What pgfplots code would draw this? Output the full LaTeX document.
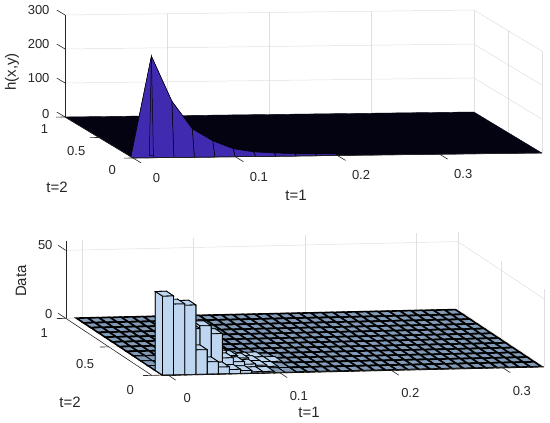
\documentclass[border=0pt]{standalone}
\usepackage{fontspec}
\setmainfont{Liberation Sans}
\usepackage{pgfplots}
\pgfplotsset{compat=1.18}
\definecolor{axisdark}{RGB}{38,38,38}
\definecolor{gridgray}{RGB}{223,223,223}
\newcommand\ticksize{\fontsize{13}{15}\selectfont}
\newcommand\labsize{\fontsize{15}{18}\selectfont}
\tikzset{axl/.style={draw=axisdark, line width=0.6pt}}
\pgfplotsset{
  matlab3d/.style={
    grid=major, grid style={draw=gridgray, line width=0.5pt},
    axis line style={draw=none},
    tick pos=left,
    tick align=outside, major tick length=7pt,
    tick style={draw=none},
    ticklabel style={font=\ticksize, text=axisdark},
    /pgf/number format/assume math mode=true,
    point meta min=0, point meta max=1,
    clip=false,
  },
}
\begin{document}
\begin{tikzpicture}
\path[use as bounding box] (0,0) rectangle (550pt,423pt);
% ---------------- top: surface ----------------
\begin{axis}[matlab3d,
  at={(133pt,265pt)}, anchor=origin,
  x={(1022pt,12.5pt)}, y={(-68pt,41pt)}, z={(0pt,0.34pt)},
  xmin=0, xmax=0.4, ymin=0, ymax=1, zmin=0, zmax=300,
  xtick={0,0.1,0.2,0.3}, ytick={0,0.5,1}, ztick={0,100,200,300},
  xticklabel style={xshift=13pt, yshift=-8pt},
  yticklabel style={xshift=-6pt, yshift=-4pt},
  zticklabel style={xshift=-6pt, yshift=-3pt},
]
\addplot3[surf, shader=flat, mesh/cols=2,
  colormap={blk}{rgb255=(4,3,18) rgb255=(4,3,18)}] table {
x y z
0 0 0
0.4 0 0
0 1 0
0.4 1 0
};
\addplot3[surf, shader=faceted, faceted color=black, line width=0.5pt,
  mesh/cols=11, z buffer=sort,
  colormap={pur}{rgb255=(64,42,176) rgb255=(64,42,176)}] table {
x y z
0 0 0
0.02 0 0
0.04 0 0
0.06 0 0
0.08 0 0
0.10 0 0
0.12 0 0
0.14 0 0
0.16 0 0
0.18 0 0
0.20 0 0
0 0.03 0
0.02 0.03 295
0.04 0.03 162
0.06 0.03 80
0.08 0.03 44
0.10 0.03 20
0.12 0.03 10
0.14 0.03 6
0.16 0.03 3
0.18 0.03 2
0.20 0.03 1
0 0.06 0
0.02 0.06 0
0.04 0.06 0
0.06 0.06 0
0.08 0.06 0
0.10 0.06 0
0.12 0.06 0
0.14 0.06 0
0.16 0.06 0
0.18 0.06 0
0.20 0.06 0
};
\draw[axl] (axis cs:0,0,0) -- (axis cs:0.4,0,0);
\draw[axl] (axis cs:0,0,0) -- (axis cs:0,1,0);
\draw[axl] (axis cs:0,1,0) -- (axis cs:0,1,300);
\pgfplotsinvokeforeach{0,0.1,0.2,0.3}{\draw[axl] (axis cs:#1,0,0) -- (axis cs:#1,-0.12,0);}
\pgfplotsinvokeforeach{0,0.5,1}{\draw[axl] (axis cs:0,#1,0) -- (axis cs:-0.009,#1,0);}
\pgfplotsinvokeforeach{0,100,200,300}{\draw[axl] (axis cs:0,1,#1) -- (axis cs:0,1.12,#1);}
\end{axis}
% ---------------- bottom: histogram ----------------
\begin{axis}[matlab3d,
  at={(168pt,48pt)}, anchor=origin,
  x={(1115pt,25pt)}, y={(-86pt,57pt)}, z={(0pt,1.36pt)},
  xmin=-0.0145, xmax=0.337, ymin=0, ymax=1, zmin=0, zmax=57,
  xtick={0,0.1,0.2,0.3}, ytick={0,0.5,1}, ztick={0,50},
  xticklabel style={xshift=9pt, yshift=-11pt},
  yticklabel style={xshift=-7pt, yshift=-7pt},
  zticklabel style={xshift=-4pt, yshift=-2pt},
  colormap={sky}{rgb255(0cm)=(130,155,185) rgb255(3cm)=(190,214,240) rgb255(10cm)=(190,214,240)},
]
\addplot3[surf, shader=faceted, faceted color=black, line width=1.6pt,
  mesh/cols=35] table {
x y z
-0.005 0 0
0.005 0 0
0.015 0 0
0.025 0 0
0.035 0 0
0.045 0 0
0.055 0 0
0.065 0 0
0.075 0 0
0.085 0 0
0.095 0 0
0.105 0 0
0.115 0 0
0.125 0 0
0.135 0 0
0.145 0 0
0.155 0 0
0.165 0 0
0.175 0 0
0.185 0 0
0.195 0 0
0.205 0 0
0.215 0 0
0.225 0 0
0.235 0 0
0.245 0 0
0.255 0 0
0.265 0 0
0.275 0 0
0.285 0 0
0.295 0 0
0.305 0 0
0.315 0 0
0.325 0 0
0.335 0 0
-0.005 0.0833 0
0.005 0.0833 0
0.015 0.0833 0
0.025 0.0833 0
0.035 0.0833 0
0.045 0.0833 0
0.055 0.0833 0
0.065 0.0833 0
0.075 0.0833 0
0.085 0.0833 0
0.095 0.0833 0
0.105 0.0833 0
0.115 0.0833 0
0.125 0.0833 0
0.135 0.0833 0
0.145 0.0833 0
0.155 0.0833 0
0.165 0.0833 0
0.175 0.0833 0
0.185 0.0833 0
0.195 0.0833 0
0.205 0.0833 0
0.215 0.0833 0
0.225 0.0833 0
0.235 0.0833 0
0.245 0.0833 0
0.255 0.0833 0
0.265 0.0833 0
0.275 0.0833 0
0.285 0.0833 0
0.295 0.0833 0
0.305 0.0833 0
0.315 0.0833 0
0.325 0.0833 0
0.335 0.0833 0
-0.005 0.1667 0
0.005 0.1667 0
0.015 0.1667 0
0.025 0.1667 0
0.035 0.1667 0
0.045 0.1667 0
0.055 0.1667 0
0.065 0.1667 0
0.075 0.1667 0
0.085 0.1667 0
0.095 0.1667 0
0.105 0.1667 0
0.115 0.1667 0
0.125 0.1667 0
0.135 0.1667 0
0.145 0.1667 0
0.155 0.1667 0
0.165 0.1667 0
0.175 0.1667 0
0.185 0.1667 0
0.195 0.1667 0
0.205 0.1667 0
0.215 0.1667 0
0.225 0.1667 0
0.235 0.1667 0
0.245 0.1667 0
0.255 0.1667 0
0.265 0.1667 0
0.275 0.1667 0
0.285 0.1667 0
0.295 0.1667 0
0.305 0.1667 0
0.315 0.1667 0
0.325 0.1667 0
0.335 0.1667 0
-0.005 0.25 0
0.005 0.25 0
0.015 0.25 0
0.025 0.25 0
0.035 0.25 0
0.045 0.25 0
0.055 0.25 0
0.065 0.25 0
0.075 0.25 0
0.085 0.25 0
0.095 0.25 0
0.105 0.25 0
0.115 0.25 0
0.125 0.25 0
0.135 0.25 0
0.145 0.25 0
0.155 0.25 0
0.165 0.25 0
0.175 0.25 0
0.185 0.25 0
0.195 0.25 0
0.205 0.25 0
0.215 0.25 0
0.225 0.25 0
0.235 0.25 0
0.245 0.25 0
0.255 0.25 0
0.265 0.25 0
0.275 0.25 0
0.285 0.25 0
0.295 0.25 0
0.305 0.25 0
0.315 0.25 0
0.325 0.25 0
0.335 0.25 0
-0.005 0.3333 0
0.005 0.3333 0
0.015 0.3333 0
0.025 0.3333 0
0.035 0.3333 0
0.045 0.3333 0
0.055 0.3333 0
0.065 0.3333 0
0.075 0.3333 0
0.085 0.3333 0
0.095 0.3333 0
0.105 0.3333 0
0.115 0.3333 0
0.125 0.3333 0
0.135 0.3333 0
0.145 0.3333 0
0.155 0.3333 0
0.165 0.3333 0
0.175 0.3333 0
0.185 0.3333 0
0.195 0.3333 0
0.205 0.3333 0
0.215 0.3333 0
0.225 0.3333 0
0.235 0.3333 0
0.245 0.3333 0
0.255 0.3333 0
0.265 0.3333 0
0.275 0.3333 0
0.285 0.3333 0
0.295 0.3333 0
0.305 0.3333 0
0.315 0.3333 0
0.325 0.3333 0
0.335 0.3333 0
-0.005 0.4167 0
0.005 0.4167 0
0.015 0.4167 0
0.025 0.4167 0
0.035 0.4167 0
0.045 0.4167 0
0.055 0.4167 0
0.065 0.4167 0
0.075 0.4167 0
0.085 0.4167 0
0.095 0.4167 0
0.105 0.4167 0
0.115 0.4167 0
0.125 0.4167 0
0.135 0.4167 0
0.145 0.4167 0
0.155 0.4167 0
0.165 0.4167 0
0.175 0.4167 0
0.185 0.4167 0
0.195 0.4167 0
0.205 0.4167 0
0.215 0.4167 0
0.225 0.4167 0
0.235 0.4167 0
0.245 0.4167 0
0.255 0.4167 0
0.265 0.4167 0
0.275 0.4167 0
0.285 0.4167 0
0.295 0.4167 0
0.305 0.4167 0
0.315 0.4167 0
0.325 0.4167 0
0.335 0.4167 0
-0.005 0.5 0
0.005 0.5 0
0.015 0.5 0
0.025 0.5 0
0.035 0.5 0
0.045 0.5 0
0.055 0.5 0
0.065 0.5 0
0.075 0.5 0
0.085 0.5 0
0.095 0.5 0
0.105 0.5 0
0.115 0.5 0
0.125 0.5 0
0.135 0.5 0
0.145 0.5 0
0.155 0.5 0
0.165 0.5 0
0.175 0.5 0
0.185 0.5 0
0.195 0.5 0
0.205 0.5 0
0.215 0.5 0
0.225 0.5 0
0.235 0.5 0
0.245 0.5 0
0.255 0.5 0
0.265 0.5 0
0.275 0.5 0
0.285 0.5 0
0.295 0.5 0
0.305 0.5 0
0.315 0.5 0
0.325 0.5 0
0.335 0.5 0
-0.005 0.5833 0
0.005 0.5833 0
0.015 0.5833 0
0.025 0.5833 0
0.035 0.5833 0
0.045 0.5833 0
0.055 0.5833 0
0.065 0.5833 0
0.075 0.5833 0
0.085 0.5833 0
0.095 0.5833 0
0.105 0.5833 0
0.115 0.5833 0
0.125 0.5833 0
0.135 0.5833 0
0.145 0.5833 0
0.155 0.5833 0
0.165 0.5833 0
0.175 0.5833 0
0.185 0.5833 0
0.195 0.5833 0
0.205 0.5833 0
0.215 0.5833 0
0.225 0.5833 0
0.235 0.5833 0
0.245 0.5833 0
0.255 0.5833 0
0.265 0.5833 0
0.275 0.5833 0
0.285 0.5833 0
0.295 0.5833 0
0.305 0.5833 0
0.315 0.5833 0
0.325 0.5833 0
0.335 0.5833 0
-0.005 0.6667 0
0.005 0.6667 0
0.015 0.6667 0
0.025 0.6667 0
0.035 0.6667 0
0.045 0.6667 0
0.055 0.6667 0
0.065 0.6667 0
0.075 0.6667 0
0.085 0.6667 0
0.095 0.6667 0
0.105 0.6667 0
0.115 0.6667 0
0.125 0.6667 0
0.135 0.6667 0
0.145 0.6667 0
0.155 0.6667 0
0.165 0.6667 0
0.175 0.6667 0
0.185 0.6667 0
0.195 0.6667 0
0.205 0.6667 0
0.215 0.6667 0
0.225 0.6667 0
0.235 0.6667 0
0.245 0.6667 0
0.255 0.6667 0
0.265 0.6667 0
0.275 0.6667 0
0.285 0.6667 0
0.295 0.6667 0
0.305 0.6667 0
0.315 0.6667 0
0.325 0.6667 0
0.335 0.6667 0
-0.005 0.75 0
0.005 0.75 0
0.015 0.75 0
0.025 0.75 0
0.035 0.75 0
0.045 0.75 0
0.055 0.75 0
0.065 0.75 0
0.075 0.75 0
0.085 0.75 0
0.095 0.75 0
0.105 0.75 0
0.115 0.75 0
0.125 0.75 0
0.135 0.75 0
0.145 0.75 0
0.155 0.75 0
0.165 0.75 0
0.175 0.75 0
0.185 0.75 0
0.195 0.75 0
0.205 0.75 0
0.215 0.75 0
0.225 0.75 0
0.235 0.75 0
0.245 0.75 0
0.255 0.75 0
0.265 0.75 0
0.275 0.75 0
0.285 0.75 0
0.295 0.75 0
0.305 0.75 0
0.315 0.75 0
0.325 0.75 0
0.335 0.75 0
-0.005 0.8333 0
0.005 0.8333 0
0.015 0.8333 0
0.025 0.8333 0
0.035 0.8333 0
0.045 0.8333 0
0.055 0.8333 0
0.065 0.8333 0
0.075 0.8333 0
0.085 0.8333 0
0.095 0.8333 0
0.105 0.8333 0
0.115 0.8333 0
0.125 0.8333 0
0.135 0.8333 0
0.145 0.8333 0
0.155 0.8333 0
0.165 0.8333 0
0.175 0.8333 0
0.185 0.8333 0
0.195 0.8333 0
0.205 0.8333 0
0.215 0.8333 0
0.225 0.8333 0
0.235 0.8333 0
0.245 0.8333 0
0.255 0.8333 0
0.265 0.8333 0
0.275 0.8333 0
0.285 0.8333 0
0.295 0.8333 0
0.305 0.8333 0
0.315 0.8333 0
0.325 0.8333 0
0.335 0.8333 0
-0.005 0.9167 0
0.005 0.9167 0
0.015 0.9167 0
0.025 0.9167 0
0.035 0.9167 0
0.045 0.9167 0
0.055 0.9167 0
0.065 0.9167 0
0.075 0.9167 0
0.085 0.9167 0
0.095 0.9167 0
0.105 0.9167 0
0.115 0.9167 0
0.125 0.9167 0
0.135 0.9167 0
0.145 0.9167 0
0.155 0.9167 0
0.165 0.9167 0
0.175 0.9167 0
0.185 0.9167 0
0.195 0.9167 0
0.205 0.9167 0
0.215 0.9167 0
0.225 0.9167 0
0.235 0.9167 0
0.245 0.9167 0
0.255 0.9167 0
0.265 0.9167 0
0.275 0.9167 0
0.285 0.9167 0
0.295 0.9167 0
0.305 0.9167 0
0.315 0.9167 0
0.325 0.9167 0
0.335 0.9167 0
-0.005 1 0
0.005 1 0
0.015 1 0
0.025 1 0
0.035 1 0
0.045 1 0
0.055 1 0
0.065 1 0
0.075 1 0
0.085 1 0
0.095 1 0
0.105 1 0
0.115 1 0
0.125 1 0
0.135 1 0
0.145 1 0
0.155 1 0
0.165 1 0
0.175 1 0
0.185 1 0
0.195 1 0
0.205 1 0
0.215 1 0
0.225 1 0
0.235 1 0
0.245 1 0
0.255 1 0
0.265 1 0
0.275 1 0
0.285 1 0
0.295 1 0
0.305 1 0
0.315 1 0
0.325 1 0
0.335 1 0
};
\addplot3[surf, shader=faceted, faceted color=black, line width=0.8pt,
  mesh/cols=26] table {
x y z
-0.005 0 0
-0.005 0 0
0.005 0 0
0.005 0 0
0.015 0 0
0.015 0 0
0.025 0 0
0.025 0 0
0.035 0 0
0.035 0 0
0.045 0 0
0.045 0 0
0.055 0 0
0.055 0 0
0.065 0 0
0.065 0 0
0.075 0 0
0.075 0 0
0.085 0 0
0.085 0 0
0.095 0 0
0.095 0 0
0.105 0 0
0.105 0 0
0.115 0 0
0.115 0 0
-0.005 0 0
-0.005 0 58
0.005 0 58
0.005 0 52
0.015 0 52
0.015 0 51
0.025 0 51
0.025 0 18
0.035 0 18
0.035 0 9
0.045 0 9
0.045 0 5
0.055 0 5
0.055 0 3
0.065 0 3
0.065 0 2
0.075 0 2
0.075 0 1
0.085 0 1
0.085 0 1
0.095 0 1
0.095 0 0
0.105 0 0
0.105 0 0
0.115 0 0
0.115 0 0
-0.005 0.0833 0
-0.005 0.0833 58
0.005 0.0833 58
0.005 0.0833 52
0.015 0.0833 52
0.015 0.0833 51
0.025 0.0833 51
0.025 0.0833 18
0.035 0.0833 18
0.035 0.0833 9
0.045 0.0833 9
0.045 0.0833 5
0.055 0.0833 5
0.055 0.0833 3
0.065 0.0833 3
0.065 0.0833 2
0.075 0.0833 2
0.075 0.0833 1
0.085 0.0833 1
0.085 0.0833 1
0.095 0.0833 1
0.095 0.0833 0
0.105 0.0833 0
0.105 0.0833 0
0.115 0.0833 0
0.115 0.0833 0
-0.005 0.0833 0
-0.005 0.0833 0
0.005 0.0833 0
0.005 0.0833 10
0.015 0.0833 10
0.015 0.0833 14
0.025 0.0833 14
0.025 0.0833 30
0.035 0.0833 30
0.035 0.0833 32
0.045 0.0833 32
0.045 0.0833 26
0.055 0.0833 26
0.055 0.0833 8
0.065 0.0833 8
0.065 0.0833 5
0.075 0.0833 5
0.075 0.0833 3
0.085 0.0833 3
0.085 0.0833 2
0.095 0.0833 2
0.095 0.0833 1
0.105 0.0833 1
0.105 0.0833 0
0.115 0.0833 0
0.115 0.0833 0
-0.005 0.1667 0
-0.005 0.1667 0
0.005 0.1667 0
0.005 0.1667 10
0.015 0.1667 10
0.015 0.1667 14
0.025 0.1667 14
0.025 0.1667 30
0.035 0.1667 30
0.035 0.1667 32
0.045 0.1667 32
0.045 0.1667 26
0.055 0.1667 26
0.055 0.1667 8
0.065 0.1667 8
0.065 0.1667 5
0.075 0.1667 5
0.075 0.1667 3
0.085 0.1667 3
0.085 0.1667 2
0.095 0.1667 2
0.095 0.1667 1
0.105 0.1667 1
0.105 0.1667 0
0.115 0.1667 0
0.115 0.1667 0
-0.005 0.1667 0
-0.005 0.1667 0
0.005 0.1667 0
0.005 0.1667 0
0.015 0.1667 0
0.015 0.1667 0
0.025 0.1667 0
0.025 0.1667 6
0.035 0.1667 6
0.035 0.1667 12
0.045 0.1667 12
0.045 0.1667 14
0.055 0.1667 14
0.055 0.1667 10
0.065 0.1667 10
0.065 0.1667 6
0.075 0.1667 6
0.075 0.1667 4
0.085 0.1667 4
0.085 0.1667 2
0.095 0.1667 2
0.095 0.1667 1
0.105 0.1667 1
0.105 0.1667 1
0.115 0.1667 1
0.115 0.1667 0
-0.005 0.25 0
-0.005 0.25 0
0.005 0.25 0
0.005 0.25 0
0.015 0.25 0
0.015 0.25 0
0.025 0.25 0
0.025 0.25 6
0.035 0.25 6
0.035 0.25 12
0.045 0.25 12
0.045 0.25 14
0.055 0.25 14
0.055 0.25 10
0.065 0.25 10
0.065 0.25 6
0.075 0.25 6
0.075 0.25 4
0.085 0.25 4
0.085 0.25 2
0.095 0.25 2
0.095 0.25 1
0.105 0.25 1
0.105 0.25 1
0.115 0.25 1
0.115 0.25 0
-0.005 0.25 0
-0.005 0.25 0
0.005 0.25 0
0.005 0.25 0
0.015 0.25 0
0.015 0.25 0
0.025 0.25 0
0.025 0.25 0
0.035 0.25 0
0.035 0.25 3
0.045 0.25 3
0.045 0.25 5
0.055 0.25 5
0.055 0.25 4
0.065 0.25 4
0.065 0.25 3
0.075 0.25 3
0.075 0.25 2
0.085 0.25 2
0.085 0.25 1
0.095 0.25 1
0.095 0.25 1
0.105 0.25 1
0.105 0.25 0
0.115 0.25 0
0.115 0.25 0
-0.005 0.3333 0
-0.005 0.3333 0
0.005 0.3333 0
0.005 0.3333 0
0.015 0.3333 0
0.015 0.3333 0
0.025 0.3333 0
0.025 0.3333 0
0.035 0.3333 0
0.035 0.3333 3
0.045 0.3333 3
0.045 0.3333 5
0.055 0.3333 5
0.055 0.3333 4
0.065 0.3333 4
0.065 0.3333 3
0.075 0.3333 3
0.075 0.3333 2
0.085 0.3333 2
0.085 0.3333 1
0.095 0.3333 1
0.095 0.3333 1
0.105 0.3333 1
0.105 0.3333 0
0.115 0.3333 0
0.115 0.3333 0
-0.005 0.3333 0
-0.005 0.3333 0
0.005 0.3333 0
0.005 0.3333 0
0.015 0.3333 0
0.015 0.3333 0
0.025 0.3333 0
0.025 0.3333 0
0.035 0.3333 0
0.035 0.3333 0
0.045 0.3333 0
0.045 0.3333 0
0.055 0.3333 0
0.055 0.3333 0
0.065 0.3333 0
0.065 0.3333 0
0.075 0.3333 0
0.075 0.3333 0
0.085 0.3333 0
0.085 0.3333 0
0.095 0.3333 0
0.095 0.3333 0
0.105 0.3333 0
0.105 0.3333 0
0.115 0.3333 0
0.115 0.3333 0
};
\draw[axl] (axis cs:-0.0145,0,0) -- (axis cs:0.337,0,0);
\draw[axl] (axis cs:-0.0145,0,0) -- (axis cs:-0.0145,1,0);
\draw[axl] (axis cs:-0.0145,1,0) -- (axis cs:-0.0145,1,57);
\pgfplotsinvokeforeach{0,0.1,0.2,0.3}{\draw[axl] (axis cs:#1,0,0) -- (axis cs:#1,-0.09,0);}
\pgfplotsinvokeforeach{0,0.5,1}{\draw[axl] (axis cs:-0.0145,#1,0) -- (axis cs:-0.0225,#1,0);}
\pgfplotsinvokeforeach{0,50}{\draw[axl] (axis cs:-0.0145,1,#1) -- (axis cs:-0.0145,1.09,#1);}
\end{axis}
% ---------------- axis labels ----------------
\node[font=\labsize, text=axisdark, rotate=90] at (12pt,351pt) {h(x,y)};
\node[font=\labsize, text=axisdark] at (57pt,236pt) {t=2};
\node[font=\labsize, text=axisdark] at (296pt,228pt) {t=1};
\node[font=\labsize, text=axisdark, rotate=90] at (21pt,142pt) {Data};
\node[font=\labsize, text=axisdark] at (70pt,21pt) {t=2};
\node[font=\labsize, text=axisdark] at (309pt,11pt) {t=1};
\end{tikzpicture}
\end{document}
